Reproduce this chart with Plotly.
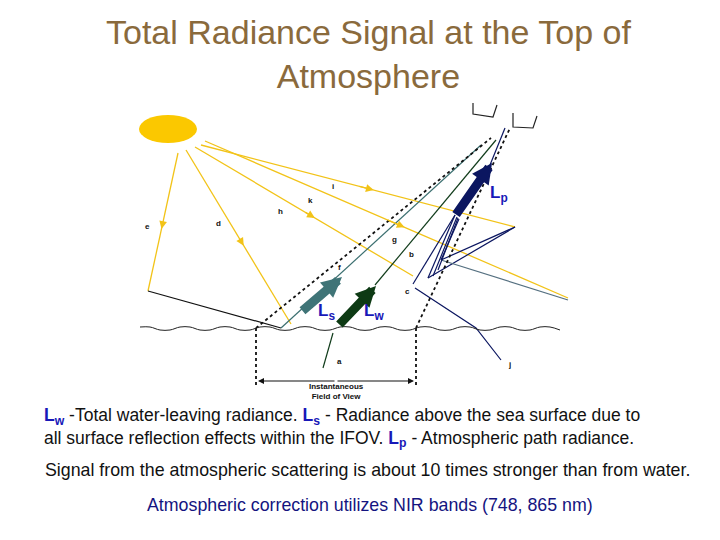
import plotly.graph_objects as go

# sun rays (yellow): start -> end, pixel coords of the diagram
sun_rays = [
    ((170, 145), (140, 283)),  # e
    ((178, 142), (283, 316)),  # d
    ((187, 139), (405, 268)),  # h
    ((193, 137), (507, 219)),  # k
    ((197, 133), (560, 290)),  # i
]
ray_labels = ['e', 'd', 'h', 'k', 'i', 'g', 'b', 'f', 'c', 'a', 'j']
label_pos = [(139, 218), (210, 215), (272, 203), (302, 192), (325, 178),
             (386, 231), (403, 246), (331, 259), (399, 283), (331, 353),
             (501, 356)]

# thin reflected / scattered paths: (points, colour)
paths = [
    ([(140, 283), (273, 320)], '#111111'),
    ([(507, 219), (420, 270)], '#0b1660'),
    ([(507, 219), (433, 252)], '#0b1660'),
    ([(433, 252), (560, 292)], '#557080'),
    ([(273, 320), (473, 137)], '#3b6f70'),
    ([(367, 277), (488, 132)], '#123d1c'),
    ([(315, 360), (325, 325)], '#123d1c'),
    ([(407, 280), (468, 320), (493, 352)], '#0b1660'),
    ([(405, 276), (447, 207)], '#0b1660'),
    ([(420, 270), (447, 207)], '#0b1660'),
    ([(425, 268), (449, 209)], '#0b1660'),
    ([(430, 262), (450, 210)], '#0b1660'),
    ([(433, 252), (451, 211)], '#0b1660'),
    ([(482, 157), (497, 120)], '#0b1660'),
    ([(465, 95), (465, 106), (485, 109), (489, 97)], '#222222'),
    ([(505, 105), (505, 119), (525, 120), (529, 108)], '#222222'),
]
dotted = [((248, 320), (483, 130)), ((408, 320), (502, 120)),
          ((248, 320), (248, 377)), ((408, 320), (408, 377))]

# thick radiance arrows: tail, head, colour, label, label position
big_arrows = [
    ((293, 304), (334, 269), '#3f7477', 'L<sub>s</sub>', (318, 304)),
    ((330, 318), (368, 278), '#0d3a14', 'L<sub>w</sub>', (366, 304)),
    ((447, 208), (484, 155), '#0b1660', 'L<sub>p</sub>', (491, 186)),
]

fig = go.Figure()
for (x0, y0), (x1, y1) in sun_rays:
    fig.add_trace(go.Scatter(x=[x0, x1], y=[y0, y1], mode='lines',
                             line=dict(color='#f2c318', width=1.3)))
    fig.add_annotation(x=(x0 + x1) / 2 + (x1 - x0) * 0.05,
                       y=(y0 + y1) / 2 + (y1 - y0) * 0.05,
                       ax=(x0 + x1) / 2, ay=(y0 + y1) / 2,
                       xref='x', yref='y', axref='x', ayref='y', text='',
                       showarrow=True, arrowhead=2, arrowsize=1.2,
                       arrowwidth=1.3, arrowcolor='#f2c318')
for pts, col in paths:
    fig.add_trace(go.Scatter(x=[p[0] for p in pts], y=[p[1] for p in pts],
                             mode='lines', line=dict(color=col, width=1.2)))
for (x0, y0), (x1, y1) in dotted:
    fig.add_trace(go.Scatter(x=[x0, x1], y=[y0, y1], mode='lines',
                             line=dict(color='#111111', width=1.8, dash='dot')))

# water surface
wx = list(range(132, 562, 10))
wy = [320 + (2 if (i // 2) % 2 else -1) for i in range(len(wx))]
fig.add_trace(go.Scatter(x=wx, y=wy, mode='lines', line_shape='spline',
                         line=dict(color='#222222', width=1)))

for (x0, y0), (x1, y1), col, lab, (lx, ly) in big_arrows:
    fig.add_annotation(x=x1, y=y1, ax=x0, ay=y0, xref='x', yref='y',
                       axref='x', ayref='y', text='', showarrow=True,
                       arrowhead=2, arrowsize=0.45, arrowwidth=9,
                       arrowcolor=col)
    fig.add_annotation(x=lx, y=ly, text='<b>%s</b>' % lab, showarrow=False,
                       font=dict(size=17, color='#1818b8', family='Arial'))

for lab, (lx, ly) in zip(ray_labels, label_pos):
    fig.add_annotation(x=lx, y=ly, text='<b>%s</b>' % lab, showarrow=False,
                       font=dict(size=8, color='#111111', family='Arial'))

# IFOV arrow
for xa, xb in [(250, 406), (406, 250)]:
    fig.add_annotation(x=xb, y=373, ax=(xa + xb) / 2, ay=373, xref='x',
                       yref='y', axref='x', ayref='y', text='',
                       showarrow=True, arrowhead=2, arrowsize=1,
                       arrowwidth=1.2, arrowcolor='#111111')
fig.add_annotation(x=328, y=383, text='<b>Instantaneous<br>Field of View</b>',
                   showarrow=False,
                   font=dict(size=8, color='#111111', family='Arial'))

fig.add_shape(type='circle', x0=131, x1=189, y0=107, y1=135,
              fillcolor='#fbc800', line=dict(width=0))

# titles and captions
fig.add_annotation(x=360, y=46, text='Total Radiance Signal at the Top of<br>Atmosphere',
                   showarrow=False,
                   font=dict(size=34, color='#8a6a3c', family='Arial'))
b = '<span style="color:#1818b8"><b>L<sub>%s</sub></b></span>'
fig.add_annotation(
    x=34, y=419, xanchor='left',
    text=(b % 'w') + ' -Total water-leaving radiance. ' + (b % 's')
    + ' - Radiance above the sea surface due to<br>all surface reflection '
    'effects within the IFOV. ' + (b % 'p') + ' - Atmospheric path radiance.',
    showarrow=False, align='left',
    font=dict(size=17.5, color='#111111', family='Arial'))
fig.add_annotation(x=359, y=462, text='Signal from the atmospheric scattering '
                   'is about 10 times stronger than from water.',
                   showarrow=False,
                   font=dict(size=17.8, color='#111111', family='Arial'))
fig.add_annotation(x=362, y=497, text='Atmospheric correction utilizes NIR '
                   'bands (748, 865 nm)', showarrow=False,
                   font=dict(size=17.8, color='#141480', family='Arial'))

fig.update_xaxes(range=[0, 720], visible=False)
fig.update_yaxes(range=[540, 0], visible=False)
fig.update_layout(width=720, height=540, margin=dict(l=0, r=0, t=0, b=0),
                  showlegend=False, plot_bgcolor='white',
                  paper_bgcolor='white')
fig.write_html('out.html')
